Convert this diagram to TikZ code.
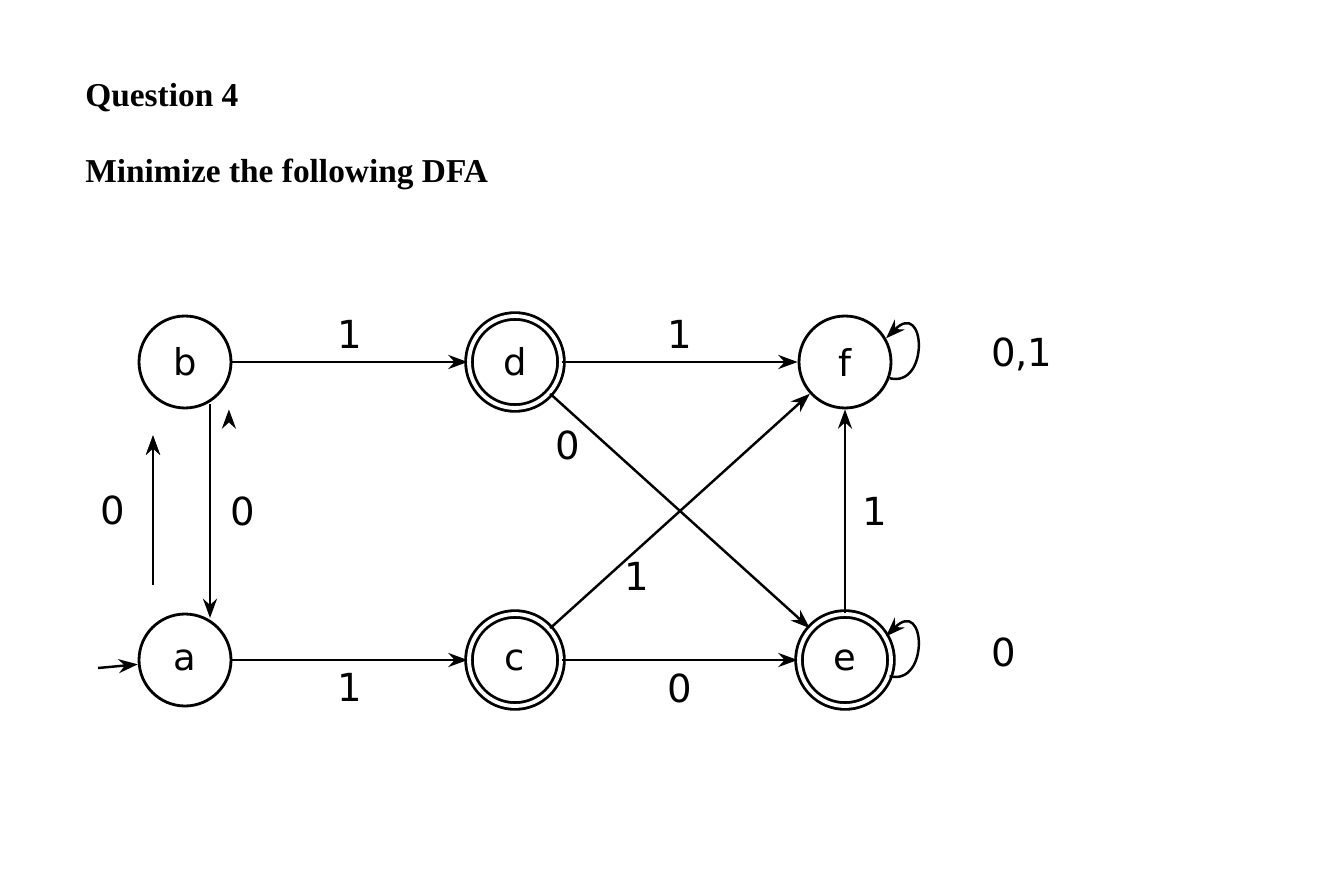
\documentclass[tikz,border=0pt]{standalone}
\usepackage{fontspec}
\setmainfont{Liberation Serif}
\newfontfamily\lblfont{DejaVu Sans}
\usetikzlibrary{arrows.meta}
\begin{document}
\begin{tikzpicture}[x=0.02cm,y=-0.02cm,
  st/.style={circle,draw,line width=1.6pt,minimum size=1.84cm,inner sep=0pt,font=\lblfont\fontsize{21}{24}\selectfont},
  acc/.style={st,double,double distance=2.2pt},
  tr/.style={line width=1.4pt,-{Stealth[length=11pt,width=8pt]}},
  lb/.style={font=\lblfont\fontsize{22}{26}\selectfont,inner sep=1pt},
  title/.style={font=\bfseries\fontsize{19}{22}\selectfont,anchor=base west,inner sep=0pt}]
\useasboundingbox (0,0) rectangle (1344,874);
\node[title] (q) at (85,107) {Question 4};
\node[title] (m) at (85,183) {Minimize the following DFA};
\node[st] (b) at (185,362) {b};
\node[acc] (d) at (515,362) {d};
\node[st] (f) at (845,362) {f};
\node[st] (a) at (185,660) {a};
\node[acc] (c) at (515,660) {c};
\node[acc] (e) at (845,660) {e};
\coordinate (s) at (98,668);
\draw[tr] (s) -- (a);
\draw[tr] (b) -- node[lb,above=6pt]{1} (d);
\draw[tr] (d) -- node[lb,above=6pt]{1} (f);
\draw[tr] (a) -- node[lb,below=6pt]{1} (c);
\draw[tr] (c) -- node[lb,below=6pt]{0} (e);
\draw[tr] (a.north)++(-32,-28) coordinate (a1) (b.south)++(-32,26) coordinate (b1);
\draw[tr] (a1) -- node[lb,left=14pt]{0} (b1);
\draw[tr] ([xshift=25pt]b.south) ++(0,0) coordinate (b2);
\coordinate (b2) at (210,404);
\coordinate (a2) at (210,618);
\draw[tr] (b2) -- node[lb,right=10pt]{0} (a2);
\draw[tr] (d) -- node[lb,pos=0.22,left=14pt]{0} (e);
\draw[tr] (c) -- node[lb,pos=0.22,right=8pt]{1} (f);
\draw[tr] (e) -- node[lb,right=8pt]{1} (f);
\draw[tr] (f.-20) .. controls +(40,10) and +(40,-40) .. (f.30) node[lb,pos=0.5,right=40pt,yshift=-4pt]{0,1};
\draw[tr] (e.-20) .. controls +(40,10) and +(40,-40) .. (e.30) node[lb,pos=0.5,right=40pt,yshift=-4pt]{0};
\end{tikzpicture}
\end{document}
